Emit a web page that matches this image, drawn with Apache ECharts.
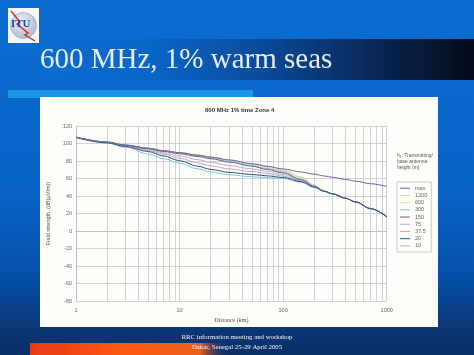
<!DOCTYPE html>
<html>
<head>
<meta charset="utf-8">
<script src="https://cdn.jsdelivr.net/npm/echarts@6/dist/echarts.min.js"></script>
<style>
html,body{margin:0;padding:0;background:#0a5cc0;}
#c{width:474px;height:355px;}
</style>
</head>
<body>
<div id="c"></div>
<script>
// ---- data ----
var distances = [1, 2, 3, 5, 7, 10, 15, 20, 30, 50, 70, 100, 150, 200, 250, 300, 400, 500, 700, 1000];
var seriesNames = ['max', '1200', '600', '300', '150', '75', '37.5', '20', '10'];
var hMax  = [107.3, 101.7, 98.3, 94.6, 91.8, 89.6, 86.7, 84.5, 81.3, 76.9, 74.0, 70.9, 67.4, 64.9, 62.9, 61.4, 58.9, 56.9, 54.0, 50.9];
var h1200 = [107.3, 101.7, 98.3, 94.6, 91.8, 89.6, 86.7, 84.5, 81.2, 76.7, 73.6, 69.8, 61.8, 52.6, 45.7, 42.6, 37.6, 33.2, 25.6, 16.2];
var h600  = [107.3, 101.7, 98.3, 94.6, 91.8, 89.5, 86.6, 84.3, 80.8, 76.2, 72.8, 68.9, 60.6, 52.1, 45.6, 42.5, 37.5, 33.2, 25.6, 16.2];
var h300  = [107.2, 101.6, 98.2, 94.5, 91.6, 89.2, 86.0, 83.6, 79.8, 75.0, 71.4, 67.6, 59.4, 51.6, 45.5, 42.5, 37.5, 33.2, 25.6, 16.2];
var h150  = [107.2, 101.5, 98.0, 94.0, 90.9, 88.3, 85.1, 82.6, 78.8, 74.0, 70.4, 66.4, 58.4, 51.1, 45.4, 42.5, 37.5, 33.2, 25.6, 16.2];
var h75   = [107.1, 101.3, 97.6, 93.0, 89.3, 85.8, 81.5, 78.5, 74.8, 71.0, 68.2, 64.6, 57.4, 50.7, 45.4, 42.5, 37.5, 33.2, 25.6, 16.2];
var h37   = [107.0, 101.0, 97.0, 92.0, 87.8, 83.2, 77.8, 74.5, 71.0, 68.0, 65.8, 62.8, 56.7, 50.4, 45.3, 42.5, 37.5, 33.2, 25.6, 16.2];
var h20   = [107.0, 100.8, 96.5, 90.8, 85.8, 80.4, 74.0, 70.4, 67.0, 64.6, 63.0, 61.2, 56.2, 50.1, 45.3, 42.5, 37.5, 33.2, 25.6, 16.2];
var h10   = [107.0, 100.5, 95.8, 88.0, 82.6, 77.4, 71.0, 67.4, 64.2, 62.0, 61.0, 60.0, 55.8, 49.9, 45.2, 42.5, 37.5, 33.2, 25.6, 16.2];
var yTicks = [-80, -60, -40, -20, 0, 20, 40, 60, 80, 100, 120];
var xTicks = [1, 10, 100, 1000];

var allValues = [hMax, h1200, h600, h300, h150, h75, h37, h20, h10];
var colors = ['#6a6a9c', '#d8d0a8', '#e6e0a0', '#8cc0e0', '#7a5a8a', '#b0b0c0', '#d0a0c8', '#2e5a7a', '#7cc8dc'];
var zOrder = [12, 3, 3.5, 5, 10, 4, 6, 11, 7];

function pairs(vals) {
  return distances.map(function (d, i) { return [d, vals[i]]; });
}

// minor vertical gridlines at 2..9 of each decade
var minorLines = [];
for (var dec = 1; dec < 1000; dec *= 10) {
  for (var k = 2; k <= 9; k++) minorLines.push({ xAxis: k * dec });
}

var series = [{
  name: 'grid',
  type: 'line',
  data: [],
  z: 1,
  silent: true,
  markLine: {
    silent: true,
    symbol: 'none',
    label: { show: false },
    lineStyle: { color: '#c4c8d2', type: 'solid', width: 0.8 },
    animation: false,
    data: minorLines
  }
}];
seriesNames.forEach(function (n, i) {
  series.push({
    name: n,
    type: 'line',
    data: pairs(allValues[i]),
    symbol: 'none',
    showSymbol: false,
    smooth: 0.35,
    smoothMonotone: 'x',
    color: colors[i],
    lineStyle: { color: colors[i], width: 1 },
    z: zOrder[i]
  });
});

var chart = echarts.init(document.getElementById('c'), null, { renderer: 'canvas' });
chart.setOption({
  animation: false,
  backgroundColor: {
    type: 'linear', x: 0, y: 0, x2: 0, y2: 1,
    colorStops: [
      { offset: 0, color: '#0b6dd0' },
      { offset: 0.55, color: '#0862c6' },
      { offset: 0.78, color: '#0650a8' },
      { offset: 0.92, color: '#0a3878' },
      { offset: 1, color: '#0a2e66' }
    ]
  },
  graphic: [
    // title band
    { type: 'rect', z: -5, shape: { x: 40, y: 39, width: 434, height: 41 },
      style: { fill: { type: 'linear', x: 0, y: 0, x2: 1, y2: 0,
        colorStops: [
          { offset: 0, color: '#0a6ccf' },
          { offset: 0.25, color: '#0866c8' },
          { offset: 0.5, color: '#0a4c9c' },
          { offset: 0.75, color: '#0a2a5c' },
          { offset: 1, color: '#040a18' }] } } },
    { type: 'text', z: 5, left: 40, top: 46,
      style: { text: '600 MHz, 1% warm seas', font: '29px "Liberation Serif", "Times New Roman", serif',
        fill: '#e8ecf4', shadowColor: 'rgba(0,0,0,0.85)', shadowOffsetX: 2, shadowOffsetY: 2, shadowBlur: 1 } },
    // light blue bar
    { type: 'rect', z: -5, shape: { x: 8, y: 90, width: 245, height: 8 }, style: { fill: '#1a96e4' } },
    // white chart panel
    { type: 'rect', z: -4, shape: { x: 40, y: 97, width: 398, height: 230 }, style: { fill: '#fdfdf9' } },
    // orange footer bar
    { type: 'rect', z: -5, shape: { x: 30, y: 343, width: 200, height: 12 },
      style: { fill: { type: 'linear', x: 0, y: 0, x2: 1, y2: 0,
        colorStops: [
          { offset: 0, color: '#e83a12' },
          { offset: 0.5, color: '#ff5a14' },
          { offset: 0.85, color: '#e8601c' },
          { offset: 1, color: 'rgba(10,50,110,0)' }] } } },
    { type: 'text', z: 5, left: 'center', top: 334,
      style: { text: 'RRC information meeting and workshop', font: '6.8px "Liberation Serif", serif', fill: '#eef2ff' } },
    { type: 'text', z: 5, left: 'center', top: 344,
      style: { text: 'Dakar, Senegal 25-29 April 2005', font: '6.8px "Liberation Serif", serif', fill: '#eef2ff' } },
    // ITU logo
    { type: 'rect', z: 1, shape: { x: 8, y: 8, width: 31, height: 35 }, style: { fill: '#f4f6fa' } },
    { type: 'circle', z: 2, shape: { cx: 23.5, cy: 25.5, r: 13 },
      style: { fill: { type: 'radial', x: 0.4, y: 0.35, r: 0.7,
        colorStops: [{ offset: 0, color: '#eef2f8' }, { offset: 1, color: '#a8b8d0' }] }, stroke: '#8898b8', lineWidth: 0.5 } },
    { type: 'polyline', z: 3, shape: { points: [[11, 11], [20, 22], [17, 24], [28, 33], [25, 35], [35, 41]] },
      style: { stroke: '#e02020', lineWidth: 1.4, fill: null } },
    { type: 'text', z: 4, left: 11, top: 19,
      style: { text: 'ITU', font: 'bold 11px "Liberation Serif", serif', fill: '#1e4aa0' } },
    // chart title
    { type: 'text', z: 5, left: 205, top: 107,
      style: { text: '600 MHz 1% time Zone 4', font: 'bold 6px "Liberation Sans", Arial, sans-serif', fill: '#333' } },
    // legend title
    { type: 'text', z: 5, left: 397, top: 153,
      style: { text: 'h\u2081: Transmitting/\nbase antenna\nheight (m)', font: '5px "Liberation Sans", Arial, sans-serif', fill: '#555', lineHeight: 6 } }
  ],
  grid: { left: 76, top: 126, width: 310.7, height: 175, containLabel: false, show: false },
  xAxis: {
    type: 'log', logBase: 10, min: xTicks[0], max: xTicks[xTicks.length - 1],
    name: 'Distance (km)', nameLocation: 'middle', nameGap: 16,
    nameTextStyle: { fontSize: 6, color: '#555', fontFamily: 'Liberation Serif' },
    axisLine: { show: true, lineStyle: { color: '#b8bcc8', width: 0.8 } },
    axisTick: { show: false },
    axisLabel: { fontSize: 5.5, color: '#666', margin: 6, fontFamily: 'Liberation Sans',
      formatter: function (v) { return String(Math.round(v)); } },
    splitLine: { show: true, lineStyle: { color: '#c4c8d2', width: 0.8 } }
  },
  yAxis: {
    type: 'value', min: yTicks[0], max: yTicks[yTicks.length - 1], interval: 20,
    name: 'Field strength  (dB(\u00b5V/m))', nameLocation: 'middle', nameGap: 17, nameRotate: 90,
    nameTextStyle: { fontSize: 5.5, color: '#555', fontFamily: 'Liberation Sans' },
    axisLine: { show: true, lineStyle: { color: '#b8bcc8', width: 0.8 } },
    axisTick: { show: false },
    axisLabel: { fontSize: 5.5, color: '#666', margin: 4, fontFamily: 'Liberation Sans' },
    splitLine: { show: true, lineStyle: { color: '#c4c8d2', width: 0.8 } }
  },
  legend: {
    data: seriesNames,
    orient: 'vertical',
    left: 397, top: 182,
    icon: 'rect',
    itemWidth: 10, itemHeight: 1, itemGap: 0.7,
    padding: [3, 4, 3, 3],
    borderColor: '#aaa', borderWidth: 0.6,
    textStyle: { fontSize: 5.5, color: '#666', lineHeight: 6.5, fontFamily: 'Liberation Sans' },
    selectedMode: false
  },
  series: series
});
</script>
</body>
</html>
